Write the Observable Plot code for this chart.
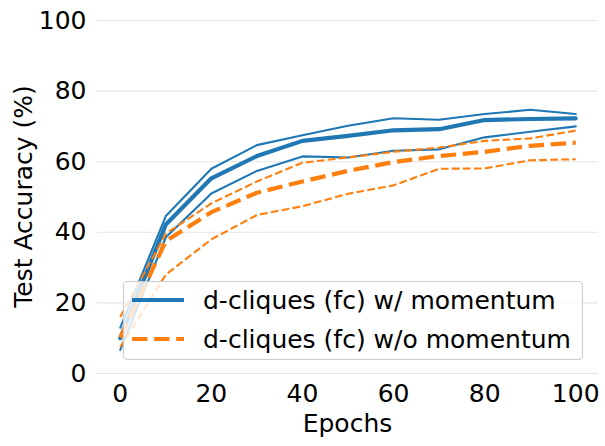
<!DOCTYPE html>
<html>
<head>
<meta charset="utf-8">
<script src="https://cdn.jsdelivr.net/npm/d3@7"></script>
<script src="https://cdn.jsdelivr.net/npm/@observablehq/plot@0.6"></script>
<style>
  html, body { margin: 0; padding: 0; background: #fff; }
  #chart { width: 605px; height: 446px; }
</style>
</head>
<body>
<div id="chart"></div>
<script>
const epochs = [0, 10, 20, 30, 40, 50, 60, 70, 80, 90, 100];
const wMomMean = [10.0, 42.2, 55.3, 61.6, 65.9, 67.3, 68.9, 69.2, 71.8, 72.1, 72.3];
const wMomMax  = [13.0, 44.6, 58.0, 64.7, 67.5, 70.2, 72.3, 71.9, 73.5, 74.7, 73.5];
const wMomMin  = [6.7, 38.6, 51.0, 57.4, 61.5, 61.2, 63.1, 63.5, 66.9, 68.5, 70.0];
const woMomMean = [10.2, 37.5, 45.7, 51.2, 54.4, 57.4, 59.9, 61.6, 62.8, 64.5, 65.4];
const woMomMax  = [16.0, 39.6, 48.2, 54.4, 59.7, 61.2, 62.8, 64.0, 65.9, 66.6, 68.8];
const woMomMin  = [7.5, 28.0, 38.0, 44.9, 47.4, 50.9, 53.3, 58.0, 58.1, 60.4, 60.7];
const xTicks = [0, 20, 40, 60, 80, 100];
const yTicks = [0, 20, 40, 60, 80, 100];
const seriesNames = ["d-cliques (fc) w/ momentum", "d-cliques (fc) w/o momentum"];
const xLabel = "Epochs";
const yLabel = "Test Accuracy (%)";

const blue = "#1f77b4", orange = "#ff7f0e";
const toRows = (vals) => epochs.map((e, i) => ({epoch: e, acc: vals[i]}));

const W = 605, H = 446;
const mL = 97, mR = 7, mT = 20, mB = 73;

const chart = Plot.plot({
  width: W, height: H,
  marginLeft: mL, marginRight: mR, marginTop: mT, marginBottom: mB,
  style: {fontFamily: "'DejaVu Sans', sans-serif", fontSize: "25px", color: "#000", background: "#fff"},
  x: {domain: [-5, 105]},
  y: {domain: [0, 100]},
  marks: [
    Plot.gridY(yTicks, {stroke: "#e5e5e5", strokeOpacity: 1, strokeWidth: 1.1}),
    Plot.axisX(xTicks, {tickSize: 0, tickPadding: 11, label: null, fontSize: 25}),
    Plot.axisY(yTicks, {tickSize: 0, tickPadding: 11, label: null, fontSize: 25}),
    Plot.line(toRows(wMomMax), {x: "epoch", y: "acc", stroke: blue, strokeWidth: 2.1}),
    Plot.line(toRows(wMomMin), {x: "epoch", y: "acc", stroke: blue, strokeWidth: 2.1}),
    Plot.line(toRows(wMomMean), {x: "epoch", y: "acc", stroke: blue, strokeWidth: 4.2}),
    Plot.line(toRows(woMomMax), {x: "epoch", y: "acc", stroke: orange, strokeWidth: 2.1, strokeDasharray: "7.7,3.3", strokeLinecap: "butt"}),
    Plot.line(toRows(woMomMin), {x: "epoch", y: "acc", stroke: orange, strokeWidth: 2.1, strokeDasharray: "7.7,3.3", strokeLinecap: "butt"}),
    Plot.line(toRows(woMomMean), {x: "epoch", y: "acc", stroke: orange, strokeWidth: 4.2, strokeDasharray: "15.4,6.7", strokeLinecap: "butt"})
  ]
});

document.getElementById("chart").appendChild(chart);

// axis titles and legend (decorations)
const svg = d3.select(chart);
svg.append("text")
  .attr("x", (mL + W - mR) / 2).attr("y", 432)
  .attr("text-anchor", "middle")
  .attr("fill", "#000")
  .style("font-size", "25px")
  .text(xLabel);
svg.append("text")
  .attr("transform", `translate(32,${(mT + H - mB) / 2}) rotate(-90)`)
  .attr("text-anchor", "middle")
  .attr("fill", "#000")
  .style("font-size", "25px")
  .text(yLabel);

const lg = svg.append("g");
lg.append("rect")
  .attr("x", 123.5).attr("y", 281.5).attr("width", 459).attr("height", 78)
  .attr("rx", 4).attr("ry", 4)
  .attr("fill", "#fff").attr("fill-opacity", 0.8)
  .attr("stroke", "#cccccc").attr("stroke-width", 1.1);
const entries = [
  {name: seriesNames[0], color: blue, dash: null, y: 300},
  {name: seriesNames[1], color: orange, dash: "15.4,6.7", y: 339}
];
entries.forEach(e => {
  const ln = lg.append("line")
    .attr("x1", 132).attr("x2", 184).attr("y1", e.y).attr("y2", e.y)
    .attr("stroke", e.color).attr("stroke-width", 4.2);
  if (e.dash) ln.attr("stroke-dasharray", e.dash);
  lg.append("text")
    .attr("x", 203).attr("y", e.y + 9)
    .attr("text-anchor", "start")
    .attr("fill", "#000")
    .style("font-size", "25px")
    .text(e.name);
});
</script>
</body>
</html>
